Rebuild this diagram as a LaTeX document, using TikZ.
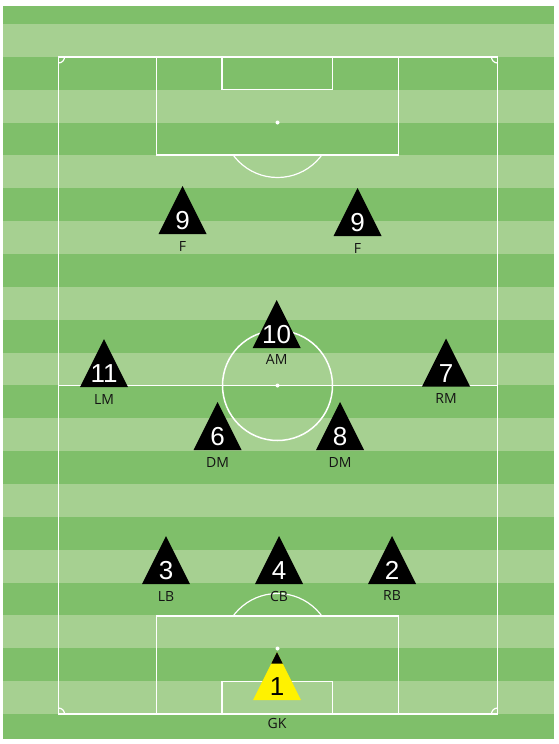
\documentclass[tikz,border=0pt]{standalone}
\usepackage{fontspec}
\setmainfont{Open Sans}
\newfontfamily\numfont{Liberation Sans}
\definecolor{darkg}{RGB}{127,191,106}
\definecolor{lightg}{RGB}{166,208,145}
\definecolor{labc}{RGB}{20,20,20}
\tikzset{
  pline/.style={white,line width=1.5pt},
  thinline/.style={white,line width=1.2pt},
  numtxt/.style={font=\numfont\fontsize{26}{26}\selectfont, inner sep=0pt, anchor=base},
  labtxt/.style={font=\fontsize{14}{14}\selectfont, text=labc, inner sep=0pt, anchor=base},
}
\newcommand\player[8]{%
  \fill[#6] ({#2-24},{#3+48}) -- (#2,#3) -- ({#2+24},{#3+48}) -- cycle;
  \node[numtxt,text=#7] (#1num) at (#2,{#3+43.5}) {#4};
  \node[labtxt] (#1lab) at (#2,{#3+#8}) {#5};}
\begin{document}
\begin{tikzpicture}[x=1pt,y=-1pt]
\useasboundingbox (0,0) rectangle (559,744);
\fill[white] (0,0) rectangle (559,744);
% stripes
\fill[darkg] (3,6) rectangle (554,739);
\foreach \i in {0,2,...,20}{
  \fill[lightg] (3,{24+\i*32.857}) rectangle (554,{24+(\i+1)*32.857});
}
% pitch
\draw[pline] (58.5,57) rectangle (497.5,714);
\draw[pline] (58.5,385.5) -- (497.5,385.5);
\draw[pline] (277.5,385.5) circle (55);
\fill[white] (277.5,385.5) circle (2);
\draw[thinline] (156.5,57) rectangle (398.5,155);
\draw[thinline] (156.5,616) rectangle (398.5,714);
\draw[thinline] (222,57) rectangle (332.5,89.5);
\draw[thinline] (222,681.5) rectangle (332.5,714);
\fill[white] (277.5,122.5) circle (2);
\fill[white] (277.5,648.5) circle (2);
\begin{scope}
  \clip (0,155) rectangle (559,300);
  \draw[thinline] (277.5,122.5) circle (55);
\end{scope}
\begin{scope}
  \clip (0,500) rectangle (559,616);
  \draw[thinline] (277.5,648.5) circle (55);
\end{scope}
\begin{scope}
  \clip (58.5,57) rectangle (497.5,714);
  \draw[thinline] (58.5,57) circle (6);
  \draw[thinline] (497.5,57) circle (6);
  \draw[thinline] (58.5,714) circle (6);
  \draw[thinline] (497.5,714) circle (6);
\end{scope}
% players
\player{fl}{182.5}{186}{9}{F}{black}{white}{65.5}
\player{fr}{357.5}{188}{9}{F}{black}{white}{65.5}
\player{lm}{104}{339}{11}{LM}{black}{white}{65}
\player{am}{276.7}{300}{10}{AM}{black}{white}{64.5}
\player{rm}{446}{338.5}{7}{RM}{black}{white}{65}
\player{dml}{217.5}{402}{6}{DM}{black}{white}{65}
\player{dmr}{340}{402}{8}{DM}{black}{white}{65}
\player{lb}{166}{536}{3}{LB}{black}{white}{65}
\player{cb}{279}{536}{4}{CB}{black}{white}{65}
\player{rb}{392}{536}{2}{RB}{black}{white}{64.5}
% goalkeeper
\fill[yellow] (253,700) -- (277,652) -- (301,700) -- cycle;
\fill[black] (271.25,663.5) -- (277,652) -- (282.75,663.5) -- cycle;
\node[numtxt,text=black] (gknum) at (277,695.5) {1};
\node[labtxt] (gklab) at (277,728) {GK};
\end{tikzpicture}
\end{document}
